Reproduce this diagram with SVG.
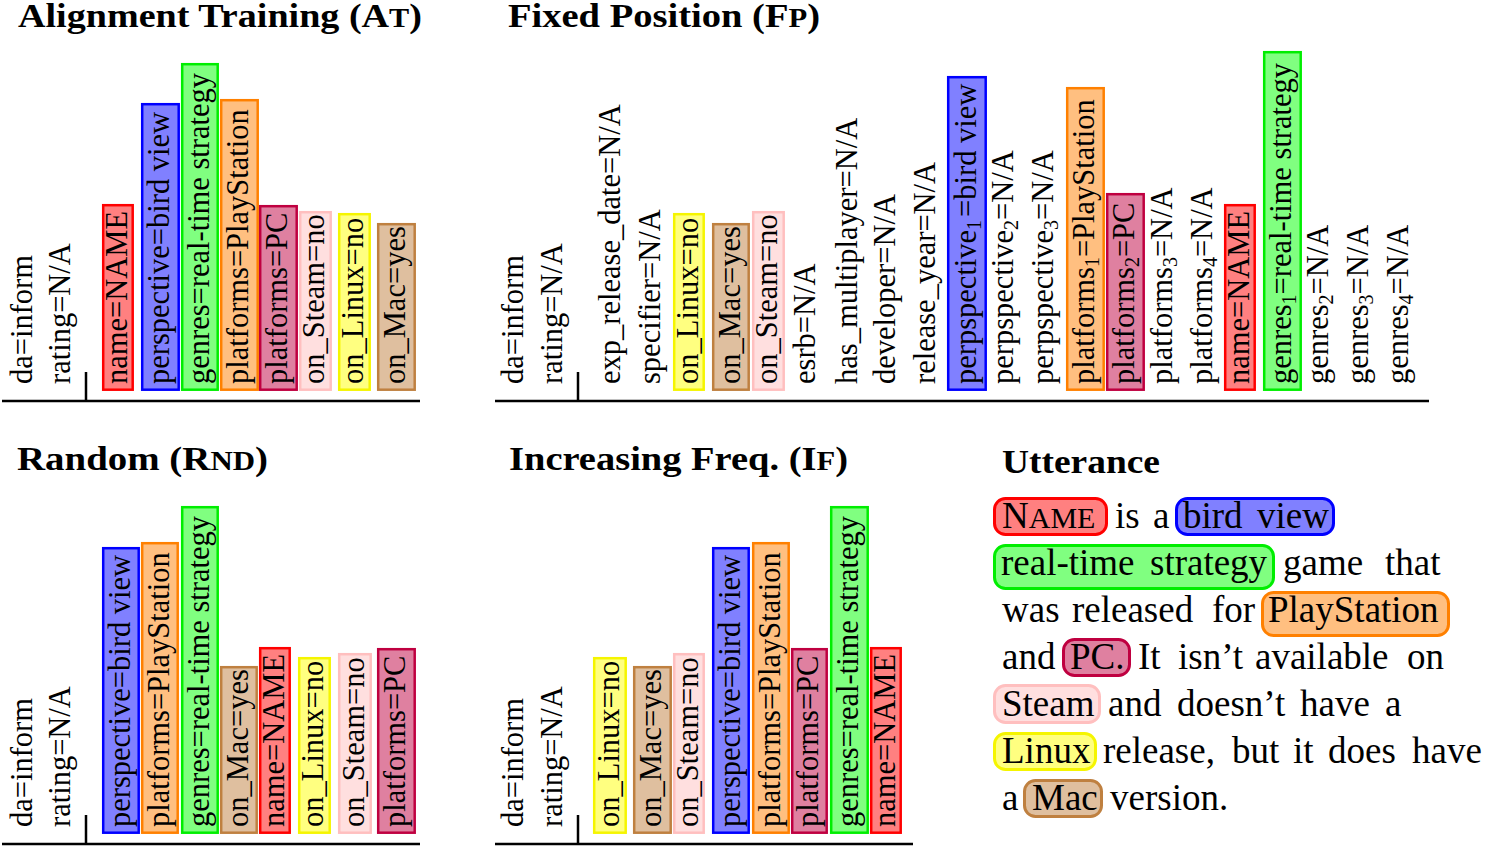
<svg xmlns="http://www.w3.org/2000/svg" width="1485" height="848" viewBox="0 0 1485 848">
<style>
text{font-family:"Liberation Serif","Times New Roman",serif;fill:#000}
.t{font-size:34px;font-weight:bold}
.sc{font-size:27px}
.l{font-size:30.5px}
.u{font-size:37px}
.b{stroke-width:2.5}
.h{stroke-width:3}
.red{fill:#ff8080;stroke:#ff0000}
.blue{fill:#8080ff;stroke:#0000ff}
.green{fill:#80ff80;stroke:#00ee00}
.orange{fill:#ffbf80;stroke:#ff8000}
.purple{fill:#df80a0;stroke:#bf0040}
.pink{fill:#ffdfdf;stroke:#ffbfbf}
.yellow{fill:#ffff80;stroke:#f5f500}
.brown{fill:#dfbf9f;stroke:#bf8040}
.ax{stroke:#000;stroke-width:2.5;fill:none}
</style>
<rect width="1485" height="848" fill="#fff"/>

<g id="titles">
<text class="t" x="18" y="27" textLength="404" lengthAdjust="spacingAndGlyphs">Alignment Training (A<tspan class="sc">T</tspan>)</text>
<text class="t" x="508" y="27" textLength="312" lengthAdjust="spacingAndGlyphs">Fixed Position (F<tspan class="sc">P</tspan>)</text>
<text class="t" x="17" y="470" textLength="251" lengthAdjust="spacingAndGlyphs">Random (R<tspan class="sc">ND</tspan>)</text>
<text class="t" x="509" y="470" textLength="339" lengthAdjust="spacingAndGlyphs">Increasing Freq. (I<tspan class="sc">F</tspan>)</text>
<text class="t" x="1002" y="473" textLength="158" lengthAdjust="spacingAndGlyphs">Utterance</text>
</g>

<g id="connectors">
<line class="ax" x1="2" y1="401" x2="420" y2="401"/>
<line class="ax" x1="86" y1="372" x2="86" y2="401"/>
<line class="ax" x1="495" y1="401" x2="1429" y2="401"/>
<line class="ax" x1="578" y1="372" x2="578" y2="401"/>
<line class="ax" x1="2" y1="844" x2="420" y2="844"/>
<line class="ax" x1="86" y1="815" x2="86" y2="844"/>
<line class="ax" x1="495" y1="844" x2="913" y2="844"/>
<line class="ax" x1="578" y1="815" x2="578" y2="844"/>
</g>

<g id="at">
<g id="at-da"><text class="l" transform="translate(32 384) rotate(-90)">da=inform</text></g>
<g id="at-rating"><text class="l" transform="translate(70 384) rotate(-90)">rating=N/A</text></g>
<g id="at-name"><rect class="b red" x="103.2" y="205.2" width="29.5" height="184.5"/><text class="l" transform="translate(126.5 384) rotate(-90)">name=NAME</text></g>
<g id="at-persp"><rect class="b blue" x="142.2" y="104.2" width="36.5" height="285.5"/><text class="l" transform="translate(169 384) rotate(-90)">perspective=bird view</text></g>
<g id="at-genres"><rect class="b green" x="182.2" y="64.2" width="35.5" height="325.5"/><text class="l" transform="translate(208.5 384) rotate(-90)">genres=real-time strategy</text></g>
<g id="at-ps"><rect class="b orange" x="221.2" y="100.2" width="36.5" height="289.5"/><text class="l" transform="translate(248 384) rotate(-90)">platforms=PlayStation</text></g>
<g id="at-pc"><rect class="b purple" x="260.2" y="206.2" width="36.5" height="183.5"/><text class="l" transform="translate(287 384) rotate(-90)">platforms=PC</text></g>
<g id="at-steam"><rect class="b pink" x="300.2" y="212.2" width="30.5" height="177.5"/><text class="l" transform="translate(324 384) rotate(-90)">on_Steam=no</text></g>
<g id="at-linux"><rect class="b yellow" x="339.2" y="214.2" width="30.5" height="175.5"/><text class="l" transform="translate(363 384) rotate(-90)">on_Linux=no</text></g>
<g id="at-mac"><rect class="b brown" x="378.2" y="224.2" width="36.5" height="165.5"/><text class="l" transform="translate(405 384) rotate(-90)">on_Mac=yes</text></g>
</g>

<g id="fp">
<g id="fp-da"><text class="l" transform="translate(523 384) rotate(-90)">da=inform</text></g>
<g id="fp-rating"><text class="l" transform="translate(562 384) rotate(-90)">rating=N/A</text></g>
<g id="fp-exp"><text class="l" transform="translate(620 384) rotate(-90)">exp_release_date=N/A</text></g>
<g id="fp-spec"><text class="l" transform="translate(660 384) rotate(-90)">specifier=N/A</text></g>
<g id="fp-linux"><rect class="b yellow" x="674.2" y="214.2" width="29.5" height="175.5"/><text class="l" transform="translate(697.5 384) rotate(-90)">on_Linux=no</text></g>
<g id="fp-mac"><rect class="b brown" x="713.2" y="224.2" width="35.5" height="165.5"/><text class="l" transform="translate(739.5 384) rotate(-90)">on_Mac=yes</text></g>
<g id="fp-steam"><rect class="b pink" x="753.2" y="212.2" width="30.5" height="177.5"/><text class="l" transform="translate(777 384) rotate(-90)">on_Steam=no</text></g>
<g id="fp-esrb"><text class="l" transform="translate(815 384) rotate(-90)">esrb=N/A</text></g>
<g id="fp-multi"><text class="l" transform="translate(857 384) rotate(-90)">has_multiplayer=N/A</text></g>
<g id="fp-dev"><text class="l" transform="translate(895 384) rotate(-90)">developer=N/A</text></g>
<g id="fp-year"><text class="l" transform="translate(935 384) rotate(-90)">release_year=N/A</text></g>
<g id="fp-persp1"><rect class="b blue" x="948.2" y="77.2" width="37.5" height="312.5"/><text class="l" transform="translate(975.5 384) rotate(-90)">perpspective<tspan font-size="20" dy="5">1</tspan><tspan dy="-5" dx="3">=bird view</tspan></text></g>
<g id="fp-persp2"><text class="l" transform="translate(1013 384) rotate(-90)">perpspective<tspan font-size="20" dy="5">2</tspan><tspan dy="-5">=N/A</tspan></text></g>
<g id="fp-persp3"><text class="l" transform="translate(1053 384) rotate(-90)">perpspective<tspan font-size="20" dy="5">3</tspan><tspan dy="-5">=N/A</tspan></text></g>
<g id="fp-plat1"><rect class="b orange" x="1067.2" y="88.2" width="36.5" height="301.5"/><text class="l" transform="translate(1094 384) rotate(-90)">platforms<tspan font-size="20" dy="5">1</tspan><tspan dy="-5">=PlayStation</tspan></text></g>
<g id="fp-plat2"><rect class="b purple" x="1107.2" y="194.2" width="36.5" height="195.5"/><text class="l" transform="translate(1134 384) rotate(-90)">platforms<tspan font-size="20" dy="5">2</tspan><tspan dy="-5">=PC</tspan></text></g>
<g id="fp-plat3"><text class="l" transform="translate(1172 384) rotate(-90)">platforms<tspan font-size="20" dy="5">3</tspan><tspan dy="-5">=N/A</tspan></text></g>
<g id="fp-plat4"><text class="l" transform="translate(1212 384) rotate(-90)">platforms<tspan font-size="20" dy="5">4</tspan><tspan dy="-5">=N/A</tspan></text></g>
<g id="fp-name"><rect class="b red" x="1225.2" y="205.2" width="29.5" height="184.5"/><text class="l" transform="translate(1248.5 384) rotate(-90)">name=NAME</text></g>
<g id="fp-gen1"><rect class="b green" x="1264.2" y="52.2" width="36.5" height="337.5"/><text class="l" transform="translate(1291 384) rotate(-90)">genres<tspan font-size="20" dy="5">1</tspan><tspan dy="-5">=real-time strategy</tspan></text></g>
<g id="fp-gen2"><text class="l" transform="translate(1328 384) rotate(-90)">genres<tspan font-size="20" dy="5">2</tspan><tspan dy="-5">=N/A</tspan></text></g>
<g id="fp-gen3"><text class="l" transform="translate(1368 384) rotate(-90)">genres<tspan font-size="20" dy="5">3</tspan><tspan dy="-5">=N/A</tspan></text></g>
<g id="fp-gen4"><text class="l" transform="translate(1408 384) rotate(-90)">genres<tspan font-size="20" dy="5">4</tspan><tspan dy="-5">=N/A</tspan></text></g>
</g>

<g id="rnd">
<g id="rnd-da"><text class="l" transform="translate(32 827) rotate(-90)">da=inform</text></g>
<g id="rnd-rating"><text class="l" transform="translate(70 827) rotate(-90)">rating=N/A</text></g>
<g id="rnd-persp"><rect class="b blue" x="103.2" y="548.2" width="35.5" height="284.5"/><text class="l" transform="translate(129.5 827) rotate(-90)">perspective=bird view</text></g>
<g id="rnd-ps"><rect class="b orange" x="142.2" y="543.2" width="35.5" height="289.5"/><text class="l" transform="translate(168.5 827) rotate(-90)">platforms=PlayStation</text></g>
<g id="rnd-genres"><rect class="b green" x="182.2" y="507.2" width="35.5" height="325.5"/><text class="l" transform="translate(208.5 827) rotate(-90)">genres=real-time strategy</text></g>
<g id="rnd-mac"><rect class="b brown" x="221.2" y="667.2" width="35.5" height="165.5"/><text class="l" transform="translate(247.5 827) rotate(-90)">on_Mac=yes</text></g>
<g id="rnd-name"><rect class="b red" x="260.2" y="648.2" width="29.5" height="184.5"/><text class="l" transform="translate(283.5 827) rotate(-90)">name=NAME</text></g>
<g id="rnd-linux"><rect class="b yellow" x="299.2" y="658.2" width="30.5" height="174.5"/><text class="l" transform="translate(323 827) rotate(-90)">on_Linux=no</text></g>
<g id="rnd-steam"><rect class="b pink" x="339.2" y="654.2" width="31.5" height="178.5"/><text class="l" transform="translate(363.5 827) rotate(-90)">on_Steam=no</text></g>
<g id="rnd-pc"><rect class="b purple" x="378.2" y="649.2" width="36.5" height="183.5"/><text class="l" transform="translate(405 827) rotate(-90)">platforms=PC</text></g>
</g>

<g id="if">
<g id="if-da"><text class="l" transform="translate(523 827) rotate(-90)">da=inform</text></g>
<g id="if-rating"><text class="l" transform="translate(562 827) rotate(-90)">rating=N/A</text></g>
<g id="if-linux"><rect class="b yellow" x="594.2" y="658.2" width="31.5" height="174.5"/><text class="l" transform="translate(618.5 827) rotate(-90)">on_Linux=no</text></g>
<g id="if-mac"><rect class="b brown" x="634.2" y="667.2" width="36.5" height="165.5"/><text class="l" transform="translate(661 827) rotate(-90)">on_Mac=yes</text></g>
<g id="if-steam"><rect class="b pink" x="674.2" y="654.2" width="29.5" height="178.5"/><text class="l" transform="translate(697.5 827) rotate(-90)">on_Steam=no</text></g>
<g id="if-persp"><rect class="b blue" x="713.2" y="548.2" width="35.5" height="284.5"/><text class="l" transform="translate(739.5 827) rotate(-90)">perspective=bird view</text></g>
<g id="if-ps"><rect class="b orange" x="753.2" y="543.2" width="35.5" height="289.5"/><text class="l" transform="translate(779.5 827) rotate(-90)">platforms=PlayStation</text></g>
<g id="if-pc"><rect class="b purple" x="792.2" y="649.2" width="34.5" height="183.5"/><text class="l" transform="translate(818 827) rotate(-90)">platforms=PC</text></g>
<g id="if-genres"><rect class="b green" x="831.2" y="507.2" width="36.5" height="325.5"/><text class="l" transform="translate(858 827) rotate(-90)">genres=real-time strategy</text></g>
<g id="if-name"><rect class="b red" x="871.2" y="648.2" width="29.5" height="184.5"/><text class="l" transform="translate(894.5 827) rotate(-90)">name=NAME</text></g>
</g>

<g id="utterance">
<rect class="h red" x="994.5" y="498.5" width="112" height="36" rx="11"/>
<rect class="h blue" x="1176.5" y="498.5" width="157" height="36" rx="11"/>
<rect class="h green" x="994.5" y="545.5" width="279" height="43" rx="11"/>
<rect class="h orange" x="1262.5" y="592.5" width="186" height="43" rx="11"/>
<rect class="h purple" x="1063.5" y="639.5" width="66" height="36" rx="11"/>
<rect class="h pink" x="994.5" y="685.5" width="105" height="37" rx="11"/>
<rect class="h yellow" x="994.5" y="733.5" width="101" height="36" rx="11"/>
<rect class="h brown" x="1024.5" y="780.5" width="77" height="36" rx="11"/>
<text class="u" y="528"><tspan x="1002">N</tspan><tspan font-size="30">AME</tspan><tspan x="1115">is</tspan><tspan x="1153">a</tspan><tspan x="1183">bird</tspan><tspan x="1257">view</tspan></text>
<text class="u" y="575"><tspan x="1001">real-time</tspan><tspan x="1150">strategy</tspan><tspan x="1283">game</tspan><tspan x="1385">that</tspan></text>
<text class="u" y="622"><tspan x="1002">was</tspan><tspan x="1072">released</tspan><tspan x="1212">for</tspan><tspan x="1268">PlayStation</tspan></text>
<text class="u" y="669"><tspan x="1002">and</tspan><tspan x="1070">PC.</tspan><tspan x="1138">It</tspan><tspan x="1178">isn’t</tspan><tspan x="1255">available</tspan><tspan x="1407">on</tspan></text>
<text class="u" y="716"><tspan x="1002">Steam</tspan><tspan x="1108">and</tspan><tspan x="1177">doesn’t</tspan><tspan x="1300">have</tspan><tspan x="1385">a</tspan></text>
<text class="u" y="763"><tspan x="1002">Linux</tspan><tspan x="1103">release,</tspan><tspan x="1232">but</tspan><tspan x="1293">it</tspan><tspan x="1328">does</tspan><tspan x="1412">have</tspan></text>
<text class="u" y="810"><tspan x="1002">a</tspan><tspan x="1032">Mac</tspan><tspan x="1110">version.</tspan></text>
</g>
</svg>
